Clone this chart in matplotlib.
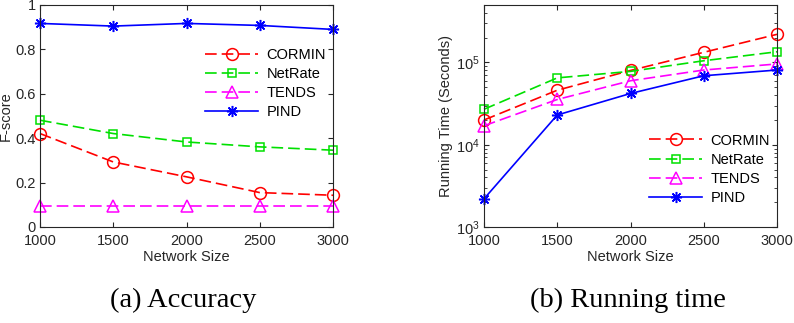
import numpy as np
import matplotlib
matplotlib.use('Agg')
import matplotlib.pyplot as plt

plt.rcParams['font.family'] = ['Liberation Sans', 'DejaVu Sans']

sizes = [1000, 1500, 2000, 2500, 3000]
methods = ['CORMIN', 'NetRate', 'TENDS', 'PIND']

# F-score (a)
f_cormin = [0.421, 0.293, 0.226, 0.155, 0.143]
f_netrate = [0.481, 0.421, 0.383, 0.361, 0.346]
f_tends = [0.093, 0.093, 0.093, 0.093, 0.093]
f_pind = [0.917, 0.905, 0.917, 0.908, 0.890]

# running time in seconds (b)
t_cormin = [2.0e4, 4.6e4, 8.0e4, 1.33e5, 2.2e5]
t_netrate = [2.7e4, 6.5e4, 7.8e4, 1.05e5, 1.35e5]
t_tends = [1.7e4, 3.55e4, 6.0e4, 8.1e4, 9.6e4]
t_pind = [2.2e3, 2.3e4, 4.2e4, 6.9e4, 8.1e4]

styles = {
    'CORMIN': dict(color='#ff0000', marker='o', ls=(0, (7, 3)), ms=8.5),
    'NetRate': dict(color='#00e000', marker='s', ls=(0, (7, 3)), ms=6),
    'TENDS': dict(color='#ff00ff', marker='^', ls=(0, (7, 3)), ms=9),
    'PIND': dict(color='#0000ff', marker=(8, 2, 0), ls='-', ms=8),
}

W, H = 794, 323
FS = 10.5
fig = plt.figure(figsize=(W / 100, H / 100), dpi=100)
ax1 = fig.add_axes([40 / W, 1 - 227 / H, 293 / W, 222 / H])
ax2 = fig.add_axes([484 / W, 1 - 227 / H, 293 / W, 222 / H])


def draw(ax, series):
    for name, vals in zip(methods, series):
        s = styles[name]
        ax.plot(sizes, vals, color=s['color'], linestyle=s['ls'], linewidth=1.2,
                marker=s['marker'], markersize=s['ms'], markerfacecolor='none',
                markeredgecolor=s['color'], markeredgewidth=1.1, label=name,
                clip_on=False)
    ax.set_xlim(1000, 3000)
    ax.set_xticks(sizes)
    ax.set_xlabel('Network Size', fontsize=FS, color='#262626', labelpad=1.5)
    ax.tick_params(which='both', direction='in', top=True, right=True,
                   labelsize=FS, labelcolor='#262626', color='#262626')
    ax.tick_params(axis='x', pad=5)
    ax.tick_params(axis='y', pad=3)
    ax.tick_params(which='major', length=3.5)
    ax.tick_params(which='minor', length=2)
    for sp in ax.spines.values():
        sp.set_color('#262626')
        sp.set_linewidth(0.8)


draw(ax1, [f_cormin, f_netrate, f_tends, f_pind])
ax1.set_ylim(0, 1)
ax1.set_yticks([0, 0.2, 0.4, 0.6, 0.8, 1])
ax1.set_yticklabels(['0', '0.2', '0.4', '0.6', '0.8', '1'])
ax1.set_ylabel('F-score', fontsize=FS, color='#262626', labelpad=2)
ax1.legend(loc='upper left', bbox_to_anchor=(0.52, 0.865), frameon=False,
           fontsize=FS, handlelength=3.6, handletextpad=0.6, labelspacing=0.35)

draw(ax2, [t_cormin, t_netrate, t_tends, t_pind])
ax2.set_yscale('log')
ax2.set_ylim(1e3, 5e5)
ax2.set_ylabel('Running Time (Seconds)', fontsize=FS, color='#262626', labelpad=2)
ax2.legend(loc='upper left', bbox_to_anchor=(0.52, 0.48), frameon=False,
           fontsize=FS, handlelength=3.6, handletextpad=0.6, labelspacing=0.35)

fig.text(183 / W, 1 - 300 / H, '(a) Accuracy', ha='center', va='center',
         family='Liberation Serif', fontsize=20.5)
fig.text(628 / W, 1 - 300 / H, '(b) Running time', ha='center', va='center',
         family='Liberation Serif', fontsize=20.5)

fig.savefig('out.png', dpi=100)
